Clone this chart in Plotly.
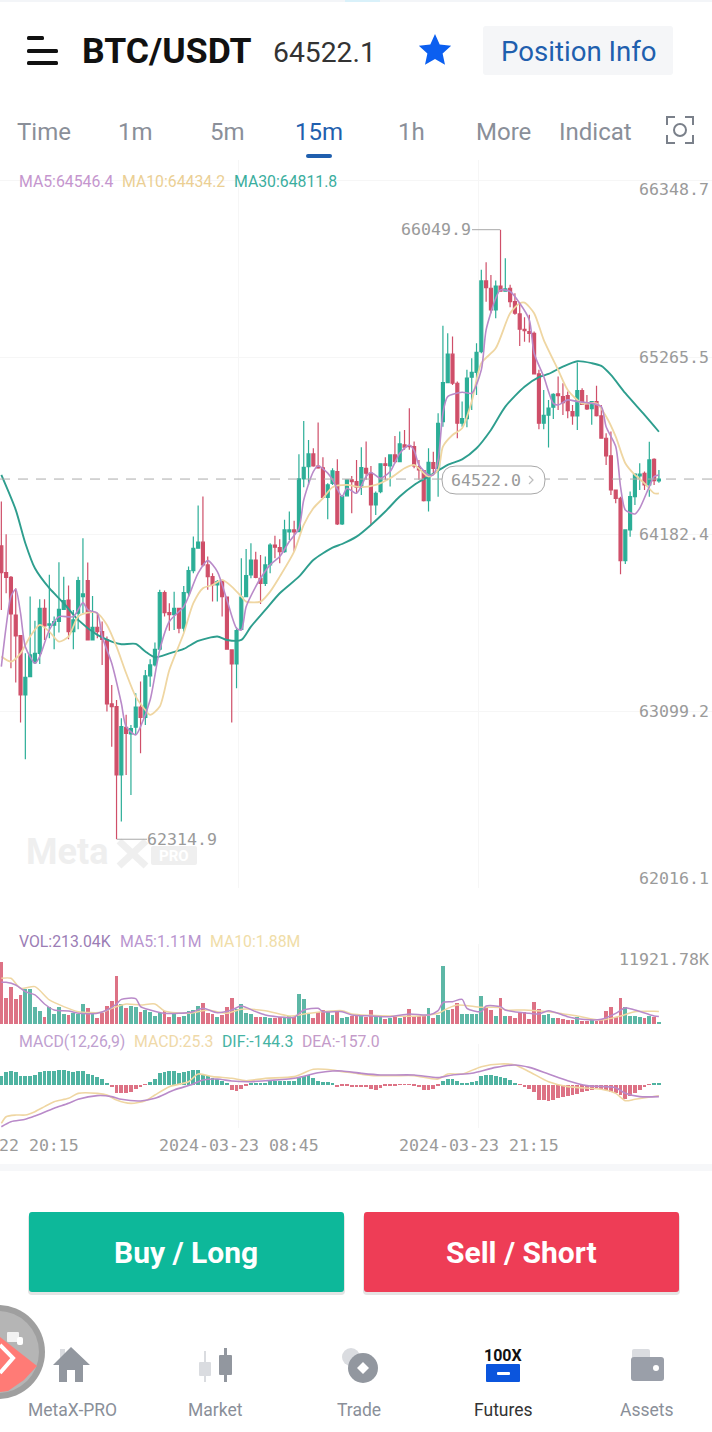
import math

import plotly.graph_objects as go

# --- candles, 15m bars, left to right ---
opens = [64112, 63949, 63920, 63689, 63563, 63199, 63311, 63397, 63454, 63730, 63626, 63626, 63649, 63724, 63781, 63587, 63700, 63802, 63900, 63536,
         63614, 63587, 63536, 63144, 63128, 62709, 63001, 62960, 63001, 63124, 63062, 63316, 63383, 63479, 63826, 63704, 63691, 63730, 63608, 63826,
         63961, 64098, 64135, 63996, 63924, 63873, 63894, 63798, 63475, 63389, 63601, 63802, 63934, 64026, 63914, 63883, 63996, 64118, 64102, 64077,
         64198, 64210, 64200, 64523, 64598, 64676, 64602, 64590, 64410, 64496, 64568, 64247, 64419, 64517, 64506, 64472, 64588, 64558, 64363, 64445,
         64615, 64602, 64670, 64629, 64731, 64725, 64721, 64598, 64574, 64390, 64623, 64588, 64874, 65113, 65287, 65109, 64864, 64892, 65146, 65176,
         65303, 65736, 65691, 65558, 65705, 65673, 65691, 65609, 65534, 65440, 65426, 65415, 65166, 64864, 64913, 64962, 65044, 65027, 65033, 64935,
         64909, 65064, 64976, 64954, 64997, 64909, 64772, 64664, 64455, 64404, 64022, 64210, 64414, 64541, 64557, 64486, 64643, 64510]
closes = [63949, 63920, 63696, 63561, 63199, 63307, 63444, 63454, 63730, 63622, 63634, 63649, 63724, 63777, 63587, 63659, 63900, 63818, 63536, 63614,
          63587, 63540, 63144, 63128, 62709, 63005, 62964, 62993, 63124, 63062, 63316, 63383, 63479, 63826, 63704, 63691, 63730, 63608, 63826, 63961,
          64098, 64135, 63996, 63924, 63873, 63894, 63802, 63479, 63389, 63593, 63798, 63930, 64026, 63920, 63883, 63996, 64118, 64104, 64077, 64210,
          64210, 64198, 64523, 64594, 64676, 64602, 64590, 64410, 64486, 64572, 64247, 64415, 64517, 64506, 64472, 64592, 64558, 64363, 64435, 64615,
          64605, 64670, 64629, 64737, 64717, 64721, 64602, 64578, 64390, 64625, 64588, 64864, 65113, 65287, 65109, 64864, 64892, 65140, 65176, 65299,
          65736, 65695, 65558, 65705, 65673, 65687, 65609, 65538, 65440, 65432, 65415, 65166, 64864, 64913, 64956, 65041, 65033, 64990, 64941, 64909,
          65064, 64980, 64952, 64997, 64911, 64772, 64664, 64455, 64404, 64022, 64210, 64414, 64553, 64553, 64486, 64639, 64512, 64522]
highs = [64384, 64184, 63928, 63853, 63567, 63454, 63802, 63653, 63785, 63785, 63935, 63679, 64012, 63924, 63869, 63720, 63924, 64159, 64010, 63806,
         63700, 63649, 63557, 63260, 63168, 63056, 63077, 63015, 63209, 63281, 63352, 63418, 63520, 63843, 63839, 63761, 63832, 63730, 63867, 63986,
         64170, 64360, 64415, 64047, 63945, 63904, 63904, 63802, 63479, 63614, 64037, 64094, 64129, 64077, 64057, 64047, 64129, 64175, 64153, 64272,
         64323, 64267, 64674, 64878, 64762, 64711, 64868, 64656, 64496, 64588, 64643, 64425, 64521, 64541, 64639, 64717, 64752, 64602, 64445, 64619,
         64656, 64670, 64786, 64813, 64823, 64956, 64752, 64639, 64578, 64711, 64690, 64925, 65462, 65415, 65395, 65119, 64997, 65191, 65262, 65354,
         65804, 65851, 65773, 65738, 66049.9, 65875, 65712, 65661, 65599, 65513, 65528, 65426, 65191, 65068, 65007, 65048, 65150, 65109, 65058, 64976,
         65236, 65078, 65037, 64997, 65093, 64976, 64802, 64813, 64455, 64414, 64210, 64445, 64557, 64619, 64568, 64751, 64649, 64578]
lows = [63720, 63822, 63363, 63275, 63030, 62805, 63311, 63389, 63389, 63536, 63546, 63479, 63581, 63720, 63540, 63479, 63602, 63700, 63536, 63536,
        63546, 63383, 63097, 62882, 62314.9, 62423, 62709, 62586, 62954, 62842, 63015, 63250, 63373, 63471, 63679, 63593, 63597, 63577, 63587, 63802,
        63945, 64098, 63986, 63843, 63771, 63771, 63679, 63479, 63030, 63240, 63597, 63802, 63914, 63914, 63757, 63867, 63945, 64037, 64006, 64071,
        64149, 64077, 64200, 64472, 64486, 64598, 64585, 64404, 64276, 64486, 64241, 64241, 64415, 64312, 64435, 64425, 64517, 64241, 64302, 64435,
        64517, 64476, 64619, 64629, 64701, 64701, 64588, 64517, 64384, 64323, 64547, 64414, 64843, 65109, 65099, 64772, 64843, 64839, 64945, 65037,
        65293, 65609, 65538, 65507, 65671, 65671, 65575, 65528, 65338, 65364, 65358, 65166, 64827, 64827, 64715, 64890, 64945, 64915, 64894, 64854,
        64823, 64976, 64945, 64854, 64905, 64772, 64608, 64425, 64373, 63938, 64002, 64169, 64363, 64455, 64455, 64414, 64486, 64500]

# --- moving averages, read at the bars where they bend ---
ma5_idx = [0, 1, 2, 3, 4, 5, 7, 8, 10, 12, 15, 17, 18, 20, 21, 23, 25, 26, 28, 29, 31, 33, 35, 38, 39, 41, 43, 45, 47, 49, 50, 51, 53, 54, 56, 58, 60, 62, 63, 65, 66, 68, 69, 71, 72, 74, 76, 77, 79, 81, 83, 85, 86, 87, 89, 90, 91, 92, 93, 96, 98, 100, 101, 103, 104, 106, 108, 110, 111, 113, 115, 116, 118, 120, 123, 125, 126, 128, 129, 130, 132, 133, 135, 136, 137]
ma5_val = [63373, 63618, 63802, 63847, 63700, 63495, 63393, 63434, 63597, 63679, 63679, 63765, 63720, 63700, 63557, 63393, 63148, 63005, 62954, 63005, 63168, 63475, 63649, 63740, 63802, 63945, 64022, 63955, 63781, 63608, 63597, 63740, 63863, 63914, 63996, 64047, 64139, 64220, 64394, 64568, 64602, 64558, 64517, 64415, 64466, 64435, 64537, 64562, 64527, 64568, 64680, 64731, 64696, 64609, 64547, 64547, 64639, 64925, 65027, 65054, 65048, 65191, 65436, 65630, 65681, 65671, 65599, 65497, 65293, 65150, 64986, 64976, 65007, 64997, 64986, 64966, 64843, 64721, 64476, 64333, 64308, 64343, 64476, 64537, 64546.4]
ma10_idx = [0, 2, 4, 6, 8, 10, 12, 14, 16, 18, 20, 22, 24, 26, 28, 30, 31, 33, 35, 38, 40, 42, 44, 46, 48, 50, 51, 54, 56, 58, 61, 63, 65, 67, 69, 72, 75, 78, 81, 84, 86, 89, 91, 92, 94, 96, 98, 100, 103, 106, 108, 109, 111, 113, 116, 118, 121, 124, 126, 128, 130, 132, 134, 136, 137]
ma10_val = [63434, 63403, 63454, 63557, 63628, 63587, 63526, 63557, 63679, 63704, 63700, 63628, 63495, 63332, 63189, 63107, 63077, 63128, 63352, 63577, 63761, 63853, 63873, 63904, 63863, 63802, 63771, 63771, 63832, 63924, 64077, 64241, 64343, 64404, 64472, 64486, 64472, 64486, 64527, 64588, 64609, 64537, 64578, 64721, 64792, 64833, 64997, 65232, 65323, 65538, 65599, 65603, 65538, 65375, 65191, 65068, 64986, 64986, 64905, 64782, 64619, 64547, 64496, 64435, 64434.2]
ma30_idx = [0, 3, 5, 7, 10, 13, 16, 20, 23, 25, 28, 30, 32, 35, 38, 41, 45, 47, 50, 52, 55, 58, 62, 65, 69, 71, 74, 77, 80, 83, 86, 89, 93, 96, 99, 102, 105, 109, 112, 114, 117, 120, 123, 125, 127, 130, 134, 137]
ma30_val = [64547, 64333, 64129, 63975, 63853, 63761, 63659, 63567, 63526, 63510, 63512, 63465, 63430, 63454, 63481, 63530, 63557, 63536, 63536, 63618, 63720, 63822, 63924, 64026, 64102, 64124, 64169, 64241, 64323, 64415, 64486, 64537, 64609, 64643, 64711, 64823, 64966, 65088, 65146, 65166, 65211, 65244, 65232, 65215, 65160, 65048, 64915, 64811.8]

# --- volume in K ---
volumes = [9195, 3827, 5566, 3678, 4324, 5169, 5169, 2485, 1988, 1093, 2584, 1491, 2485, 1491, 1342, 1590, 1491, 2982, 2336, 1690,
           845, 1690, 2684, 3479, 7157, 2982, 2336, 2684, 2584, 1839, 2087, 1839, 1193, 1690, 1889, 1093, 1690, 1093, 1193, 1988,
           2087, 2684, 3081, 1590, 1491, 994, 1342, 2485, 3827, 2187, 2982, 1690, 1491, 1093, 1093, 1093, 895, 895, 994, 994,
           1193, 994, 4473, 3728, 1590, 845, 1839, 2087, 1839, 1342, 2087, 845, 994, 1193, 1193, 1193, 994, 2087, 1093, 994,
           795, 845, 994, 944, 994, 2187, 1193, 1193, 1193, 2435, 895, 1342, 8648, 2087, 2187, 3081, 1491, 1491, 1491, 1491,
           4225, 2584, 2087, 1193, 3827, 1243, 1193, 895, 1839, 1740, 696, 3231, 2187, 1342, 1491, 845, 845, 696, 596, 596,
           1093, 497, 497, 696, 497, 696, 1988, 2485, 994, 3827, 2485, 1193, 1193, 994, 845, 1193, 994, 213.04]
vol_ma5_idx = [0, 1, 3, 5, 7, 9, 11, 14, 16, 20, 22, 24, 25, 28, 29, 31, 34, 37, 40, 42, 45, 48, 50, 53, 55, 59, 61, 63, 66, 67, 71, 73, 77, 81, 85, 89, 91, 92, 94, 96, 97, 100, 101, 104, 105, 110, 112, 114, 118, 121, 125, 128, 130, 132, 136, 137]
vol_ma5_val = [6212, 6212, 5815, 4821, 4324, 2982, 2087, 1938, 1590, 1590, 2087, 2982, 3678, 3777, 2584, 2087, 1590, 1590, 1839, 2336, 1690, 2087, 2684, 1839, 1342, 994, 994, 2087, 2336, 1839, 1839, 1342, 1193, 1093, 1491, 1342, 1988, 3181, 3330, 3678, 2336, 1839, 2684, 2584, 2087, 1590, 1491, 1988, 1093, 696, 696, 1590, 2435, 2087, 1193, 1110]
vol_ma10_idx = [0, 2, 4, 7, 10, 13, 16, 21, 23, 26, 29, 32, 34, 39, 43, 47, 50, 55, 60, 64, 71, 73, 77, 81, 87, 91, 93, 95, 100, 104, 105, 109, 114, 120, 125, 129, 132, 136, 137]
vol_ma10_val = [6809, 6809, 5318, 5566, 3578, 2584, 1839, 1740, 2336, 2982, 2833, 2982, 1938, 1590, 2087, 1590, 2187, 1988, 1193, 1590, 1988, 1491, 1292, 1193, 1193, 1590, 2336, 2833, 2485, 2435, 2087, 2087, 1839, 1193, 596, 1193, 1839, 1889, 1880]

# --- MACD ---
macd_hist = [109, 162, 175, 166, 118, 109, 109, 122, 162, 175, 179, 184, 188, 192, 175, 166, 175, 184, 135, 122,
             96, 74, 9, -31, -109, -109, -109, -92, -57, -31, -4, 35, 79, 153, 170, 175, 175, 157, 162, 179,
             188, 192, 144, 109, 87, 79, 44, 9, -74, -83, -57, -13, 13, 9, 17, 26, 44, 44, 44, 44,
             44, 44, 83, 118, 122, 87, 52, 31, 31, 9, -31, -22, -22, -31, -31, -31, -31, -61, -66, -39,
             -22, -13, -9, -4, -2, -4, -9, -31, -70, -66, -61, -13, 44, 79, 79, 52, 26, 26, 31, 44,
             109, 127, 127, 118, 101, 87, 57, 22, -4, -31, -57, -92, -197, -205, -210, -197, -175, -162, -153, -140,
             -118, -101, -83, -66, -48, -57, -66, -101, -109, -140, -184, -144, -109, -66, -31, -4, 13, 25.3]
dif_idx = [0, 1, 3, 5, 7, 9, 11, 14, 16, 20, 22, 24, 27, 30, 32, 35, 39, 41, 44, 48, 51, 55, 61, 65, 69, 71, 73, 77, 82, 86, 91, 93, 96, 100, 104, 107, 110, 114, 118, 125, 128, 130, 132, 137]
dif_val = [-507, -420, -398, -398, -354, -288, -223, -179, -114, -114, -135, -201, -245, -210, -135, -26, 39, 140, 105, 83, 52, 83, 105, 201, 192, 170, 157, 122, 118, 118, 74, 140, 140, 236, 271, 258, 170, 39, -26, -61, -114, -210, -192, -144.3]
dea_idx = [0, 2, 5, 7, 11, 14, 16, 20, 23, 25, 29, 32, 36, 40, 42, 45, 48, 52, 55, 61, 66, 69, 71, 75, 79, 86, 91, 94, 98, 103, 107, 110, 114, 118, 122, 128, 130, 133, 137]
dea_val = [-551, -485, -454, -411, -310, -245, -192, -144, -157, -192, -214, -179, -70, 9, 61, 74, 48, 39, 52, 83, 157, 179, 179, 149, 127, 127, 92, 127, 149, 227, 258, 227, 140, 52, -13, -39, -114, -157, -157]

# --- axis labels ---
price_ticks = [66348.7, 65265.5, 64182.4, 63099.2, 62016.1]
time_tick_pos = [-0.27, 49.5, 99.5]
time_tick_text = ["2024-03-22 20:15", "2024-03-23 08:45", "2024-03-23 21:15"]
last_price = 64522.0
vol_top = 11921.78

UP = "#2CAE97"
DOWN = "#CF4F69"
PURPLE = "#B98AC9"
TAN = "#EFD6A2"
TEAL = "#2E9E8E"
GRID = "#F6F6F6"
GREY = "#9A9A9A"
ICON = "#92979F"
ICON_LIGHT = "#DADCE0"
BLUE = "#1F5FAE"
MONO = "DejaVu Sans Mono"

W, H = 712, 1432
X_RANGE = [-0.28, 148.06]
bars = list(range(len(opens)))


def dom(top, bottom):
    return [1 - bottom / H, 1 - top / H]


fig = go.Figure()

fig.add_trace(go.Candlestick(
    x=bars, open=opens, high=highs, low=lows, close=closes,
    increasing=dict(line=dict(color=UP, width=1.2), fillcolor=UP),
    decreasing=dict(line=dict(color=DOWN, width=1.2), fillcolor=DOWN),
    whiskerwidth=0, showlegend=False, hoverinfo="skip",
))
for idx, val, color, w in [(ma30_idx, ma30_val, TEAL, 1.9), (ma10_idx, ma10_val, TAN, 1.8), (ma5_idx, ma5_val, PURPLE, 1.6)]:
    fig.add_trace(go.Scatter(x=idx, y=val, mode="lines", line=dict(color=color, width=w, shape="spline", smoothing=0.7), hoverinfo="skip"))

vol_colors = ["#5DB7A6" if c >= o else "#DD7285" for o, c in zip(opens, closes)]
fig.add_trace(go.Bar(x=bars, y=volumes, marker=dict(color=vol_colors, line_width=0), width=0.78, xaxis="x2", yaxis="y2", hoverinfo="skip"))
for idx, val, color in [(vol_ma10_idx, vol_ma10_val, TAN), (vol_ma5_idx, vol_ma5_val, PURPLE)]:
    fig.add_trace(go.Scatter(x=idx, y=val, mode="lines", line=dict(color=color, width=1.5, shape="spline", smoothing=0.7), xaxis="x2", yaxis="y2", hoverinfo="skip"))

hist_colors = ["#4FB3A1" if v >= 0 else "#DD7285" for v in macd_hist]
fig.add_trace(go.Bar(x=bars, y=macd_hist, marker=dict(color=hist_colors, line_width=0), width=0.78, xaxis="x3", yaxis="y3", hoverinfo="skip"))
for idx, val, color in [(dif_idx, dif_val, TAN), (dea_idx, dea_val, PURPLE)]:
    fig.add_trace(go.Scatter(x=idx, y=val, mode="lines", line=dict(color=color, width=1.6, shape="spline", smoothing=0.7), xaxis="x3", yaxis="y3", hoverinfo="skip"))

# overlay in page pixels for the app chrome around the chart
fig.add_trace(go.Scatter(x=[], y=[], xaxis="x4", yaxis="y4", hoverinfo="skip"))

shapes = []
annotations = []


def box(x0, y0, x1, y1, color, r=0, layer="above"):
    if r:
        path = (f"M{x0+r},{y0} L{x1-r},{y0} Q{x1},{y0} {x1},{y0+r} L{x1},{y1-r} Q{x1},{y1} {x1-r},{y1} "
                f"L{x0+r},{y1} Q{x0},{y1} {x0},{y1-r} L{x0},{y0+r} Q{x0},{y0} {x0+r},{y0} Z")
        shapes.append(dict(type="path", path=path, xref="x4", yref="y4", fillcolor=color, line_width=0, layer=layer))
    else:
        shapes.append(dict(type="rect", x0=x0, y0=y0, x1=x1, y1=y1, xref="x4", yref="y4", fillcolor=color, line_width=0, layer=layer))


def poly(points, color, layer="above"):
    path = "M" + " L".join(f"{x},{y}" for x, y in points) + " Z"
    shapes.append(dict(type="path", path=path, xref="x4", yref="y4", fillcolor=color, line_width=0, layer=layer))


def stroke(points, color, width, layer="above", dash=None):
    path = "M" + " L".join(f"{x},{y}" for x, y in points)
    shapes.append(dict(type="path", path=path, xref="x4", yref="y4", line=dict(color=color, width=width, dash=dash), layer=layer))


def dot(cx, cy, r, color, border=None, bw=0):
    shapes.append(dict(type="circle", x0=cx - r, x1=cx + r, y0=cy - r, y1=cy + r, xref="x4", yref="y4",
                       fillcolor=color, line=dict(color=border or color, width=bw)))


def label(text, x, y, size, color, anchor="left", family="Roboto", bold=False):
    annotations.append(dict(text=f"<b>{text}</b>" if bold else text, x=x, y=y, xref="x4", yref="y4", xanchor=anchor, yanchor="middle",
                            showarrow=False, font=dict(size=size, color=color, family=family)))


# top bar
box(0, 0, 712, 2, "#F3F5F8")
box(345, 0, 380, 2, "#D9F1FA")
box(27, 36, 44, 40, "#111111", 1.5)
box(27, 49, 58, 53, "#111111", 1.5)
box(27, 61, 58, 65, "#111111", 1.5)
label("BTC/USDT", 80, 51, 35.6, "#111111", bold=True)
label("64522.1", 271, 52, 28.3, "#333333")
star = []
for k in range(10):
    rad = 17 if k % 2 == 0 else 8
    ang = -math.pi / 2 + k * math.pi / 5
    star.append((435 + rad * math.cos(ang), 51 + rad * math.sin(ang)))
poly(star, "#0B5FF0")
box(483, 26, 673, 75, "#F5F6F8", 3)
label("Position Info", 579, 51, 27.6, BLUE, "center")

# interval tabs
tab_names = ["Time", "1m", "5m", "15m", "1h", "More", "Indicat"]
tab_x = [44, 135, 227, 319, 411, 503, 595]
for name, x in zip(tab_names, tab_x):
    label(name, x, 132, 24, BLUE if name == "15m" else "#8A8F99", "center")
box(306, 154, 332, 158, BLUE, 2)
for pts in ([(667, 125), (667, 117), (675, 117)], [(685, 117), (693, 117), (693, 125)],
            [(667, 135), (667, 143), (675, 143)], [(685, 143), (693, 143), (693, 135)]):
    stroke(pts, "#7A808A", 2)
dot(680, 130, 6, "rgba(0,0,0,0)", "#7A808A", 2)

# chart labels
label("MA5:64546.4", 17, 181, 15.8, "#C596CE")
label("MA10:64434.2", 120, 181, 15.8, "#EBCF94")
label("MA30:64811.8", 232, 181, 15.8, "#3BAE9E")
label("VOL:213.04K", 17, 941, 15.8, "#9B7DB5")
label("MA5:1.11M", 118, 941, 15.8, "#B995CF")
label("MA10:1.88M", 208, 941, 15.8, "#F0DDA8")
label("MACD(12,26,9)", 17, 1041, 15.8, "#BFA0D0")
label("MACD:25.3", 132, 1041, 15.8, "#EFD9A9")
label("DIF:-144.3", 220, 1041, 15.8, "#45B3A3")
label("DEA:-157.0", 300, 1041, 15.8, "#C49BC9")
label(f"{vol_top:.2f}K", 711, 959, 16.6, GREY, "right", MONO)

for i, tick in enumerate(price_ticks):
    shift = -9 if i == 0 else (10 if i == len(price_ticks) - 1 else 0)
    annotations.append(dict(text=str(tick), x=711, y=tick, xref="x4", yref="y", xanchor="right", yanchor="middle", yshift=shift,
                            showarrow=False, font=dict(size=16.6, color=GREY, family=MONO)))

# first time label sits half off the left edge, the axis would drop it
annotations.append(dict(text=time_tick_text[0], x=0, y=1145, xshift=-1, xref="x4", yref="y4", xanchor="center", yanchor="middle",
                        showarrow=False, font=dict(size=16.6, color=GREY, family=MONO)))

# extremes
annotations.append(dict(text=str(max(highs)), x=473, y=max(highs), xref="x4", yref="y", xanchor="right", yanchor="middle",
                        showarrow=False, font=dict(size=16.6, color=GREY, family=MONO)))
annotations.append(dict(text=str(min(lows)), x=145, y=min(lows), xref="x4", yref="y", xanchor="left", yanchor="middle",
                        showarrow=False, font=dict(size=16.6, color=GREY, family=MONO)))
shapes.append(dict(type="line", x0=472, x1=500, y0=max(highs), y1=max(highs), xref="x4", yref="y", line=dict(color="#A8A8A8", width=1)))
shapes.append(dict(type="line", x0=117, x1=147, y0=min(lows), y1=min(lows), xref="x4", yref="y", line=dict(color="#A8A8A8", width=1)))

# last price line and pill
shapes.append(dict(type="line", x0=0, x1=712, y0=last_price, y1=last_price, xref="x4", yref="y",
                   line=dict(color="#ABABAB", width=1, dash="10px,8px")))
shapes.append(dict(type="path", xref="x4", yref="y4", fillcolor="white", line=dict(color="#A8A8A8", width=1),
                   path="M456,466 L531,466 Q545,466 545,480 Q545,494 531,494 L456,494 Q442,494 442,480 Q442,466 456,466 Z"))
label(f"{last_price:.1f}", 449, 480, 16.6, GREY, "left", MONO)
stroke([(529, 476), (533, 480), (529, 484)], "#BDBDBD", 1.2)

# watermark
label("Meta", 24, 852, 36, "#EFEFEF", bold=True)
stroke([(119, 841), (146, 866)], "#EFEFEF", 7, layer="below")
stroke([(146, 841), (119, 866)], "#EFEFEF", 7, layer="below")
box(151, 846, 197, 865, "#EFEFEF", 2, layer="below")
label("PRO", 174, 856, 15, "#FFFFFF", "center", bold=True)

# separator and buttons
box(0, 1164, 712, 1171, "#F6F7F9")
box(28, 1214, 345, 1295, "#E4E4E4", 4)
box(363, 1214, 680, 1295, "#E4E4E4", 4)
box(29, 1212, 344, 1292, "#0DB89A", 3)
box(364, 1212, 679, 1292, "#EE3D56", 3)
label("Buy / Long", 186, 1252, 30, "#FFFFFF", "center", bold=True)
label("Sell / Short", 521, 1252, 30, "#FFFFFF", "center", bold=True)

# bottom nav
nav_names = ["MetaX-PRO", "Market", "Trade", "Futures", "Assets"]
nav_x = [72, 215, 359, 503, 647]
for name, x in zip(nav_names, nav_x):
    label(name, x, 1410, 17.5, "#333333" if name == "Futures" else "#8A8F99", "center")
box(60, 1349, 65, 1360, ICON_LIGHT)
poly([(71, 1347), (90, 1365), (83, 1365), (83, 1382), (75, 1382), (75, 1370), (67, 1370), (67, 1382), (59, 1382), (59, 1365), (53, 1365)], ICON)
box(204, 1351, 206, 1382, ICON_LIGHT)
box(199, 1362, 211, 1376, ICON_LIGHT, 1)
box(224, 1348, 227, 1382, ICON)
box(219, 1355, 232, 1375, ICON, 1)
dot(351, 1357, 9, ICON_LIGHT)
dot(363, 1368, 15, ICON)
poly([(363, 1362), (369, 1368), (363, 1374), (357, 1368)], "#FFFFFF")
label("100X", 503, 1355, 16, "#111111", "center", bold=True)
box(486, 1364, 520, 1382, "#0B55DD", 1)
box(497, 1372, 510, 1375, "#FFFFFF", 1)
box(632, 1349, 650, 1360, ICON_LIGHT, 2)
box(631, 1357, 664, 1381, "#9A9FA9", 3)
dot(656, 1368, 3, "#FFFFFF")

# floating button on the left edge
dot(-2, 1352, 47, "#9F9F9F")
dot(-2, 1352, 41, "#B5B5B5")
poly([(0, 1337), (37, 1366), (24, 1380), (8, 1391), (0, 1392)], "#FF7B76")
stroke([(0, 1345), (13, 1358), (0, 1373)], "#FFFFFF", 4)
box(7, 1332, 19, 1342, "#F2F2F2", 1)
box(17, 1337, 23, 1345, "#FFFFFF", 2)

axis_off = dict(showticklabels=False, ticks="", showline=False, zeroline=False)
fig.update_layout(
    width=W, height=H, margin=dict(l=0, r=0, t=0, b=0),
    paper_bgcolor="white", plot_bgcolor="rgba(0,0,0,0)", showlegend=False, bargap=0, boxgap=0.12,
    shapes=shapes, annotations=annotations,
    xaxis=dict(domain=[0, 1], range=X_RANGE, anchor="y", tickvals=time_tick_pos, gridcolor=GRID, rangeslider=dict(visible=False), **axis_off),
    yaxis=dict(domain=dom(160, 888), range=[62016.1, 66477], tickvals=price_ticks, gridcolor=GRID, anchor="x", **axis_off),
    xaxis2=dict(domain=[0, 1], range=X_RANGE, anchor="y2", tickvals=time_tick_pos, gridcolor=GRID, **axis_off),
    yaxis2=dict(domain=dom(944, 1024), range=[0, vol_top], tickvals=[0, vol_top], gridcolor=GRID, anchor="x2", **axis_off),
    xaxis3=dict(domain=[0, 1], range=X_RANGE, anchor="y3", tickvals=time_tick_pos, ticktext=[""] + time_tick_text[1:], gridcolor=GRID,
                showticklabels=True, ticks="", showline=False, zeroline=False, tickangle=0, ticklabelstandoff=5,
                tickfont=dict(size=16.6, color=GREY, family=MONO)),
    yaxis3=dict(domain=dom(1044, 1128), range=[-568, 533], tickvals=[-568, 533], gridcolor=GRID, anchor="x3", **axis_off),
    xaxis4=dict(domain=[0, 1], range=[0, W], anchor="y4", visible=False, fixedrange=True),
    yaxis4=dict(domain=[0, 1], range=[H, 0], anchor="x4", visible=False, fixedrange=True),
)

fig.write_html("out.html", config=dict(displayModeBar=False), post_script="document.body.style.margin='0';")
